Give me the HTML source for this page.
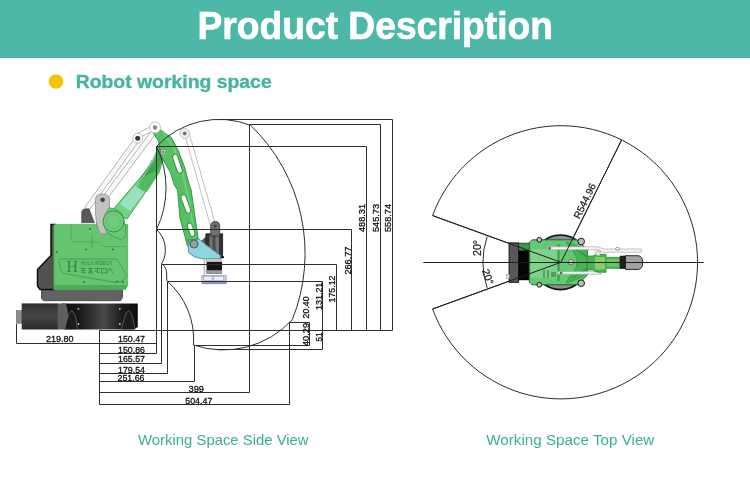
<!DOCTYPE html>
<html><head><meta charset="utf-8">
<style>
html,body{margin:0;padding:0;background:#fff;}
body{width:750px;height:479px;overflow:hidden;position:relative;}
svg{position:absolute;left:0;top:0;will-change:transform;}
</style></head>
<body>
<svg width="750" height="479" viewBox="0 0 750 479" font-family="Liberation Sans, sans-serif">
<!-- header -->
<rect x="0" y="0" width="750" height="58" fill="#4db7a8"/>
<text x="197.5" y="39" font-size="39" font-weight="bold" fill="#fff" stroke="#fff" stroke-width="0.7" textLength="355.5" lengthAdjust="spacingAndGlyphs">Product Description</text>
<!-- subtitle -->
<circle cx="56" cy="81.5" r="7.3" fill="#f5c300"/>
<text x="75.7" y="88.3" font-size="18" font-weight="bold" fill="#48b3a0" stroke="#48b3a0" stroke-width="0.35" textLength="196" lengthAdjust="spacingAndGlyphs">Robot working space</text>

<!-- ============ SIDE VIEW ============ -->
<!-- robot side -->
<defs>
  <linearGradient id="baseg" x1="0" y1="0" x2="0" y2="1">
    <stop offset="0" stop-color="#1c1c1c"/><stop offset="0.45" stop-color="#3a3a3a"/><stop offset="1" stop-color="#141414"/>
  </linearGradient>
  <linearGradient id="baseh" x1="0" y1="0" x2="1" y2="0">
    <stop offset="0" stop-color="#0c0c0c"/><stop offset="0.25" stop-color="#1a1a1a"/><stop offset="0.55" stop-color="#4a4a4a"/><stop offset="0.8" stop-color="#1a1a1a"/><stop offset="1" stop-color="#0c0c0c"/>
  </linearGradient>
  <linearGradient id="motg" x1="0" y1="0" x2="0" y2="1">
    <stop offset="0" stop-color="#2e2e2e"/><stop offset="0.5" stop-color="#474747"/><stop offset="1" stop-color="#2a2a2a"/>
  </linearGradient>
</defs>
<g id="robot-side">
  <!-- base -->
  <rect x="16.3" y="310.6" width="5.6" height="12.6" fill="#8c8c8c" stroke="#5a5a5a" stroke-width="0.5"/>
  <rect x="21.7" y="303.4" width="36.5" height="26.1" fill="url(#motg)"/>
  <path d="M61.3,303.4H137.8V327L134,329.5H64L61.3,327Z" fill="url(#baseh)"/>
  <path d="M57.7,303.4H66Q70,316 66,329.5H57.7Z" fill="#5e5e5e"/>
  <path d="M64.5,329.5 L66,323 L69,313 L72,310.5 L75.5,316 L77.5,329.5Z" fill="#1c1c1c" stroke="#8f8f8f" stroke-width="0.5"/>
  <path d="M121.5,329.5 L123,323 L126,313 L129,310.5 L132.5,316 L135,329.5Z" fill="#1c1c1c" stroke="#8f8f8f" stroke-width="0.5"/>
  <circle cx="78.4" cy="308.8" r="0.9" fill="#ccc"/><circle cx="78.4" cy="324" r="0.9" fill="#ccc"/>
  <circle cx="119.8" cy="308.8" r="0.9" fill="#ccc"/><circle cx="119.8" cy="324" r="0.9" fill="#ccc"/>
  <!-- gray plate -->
  <path d="M41.5,289.5H122.5V297.5L120.5,300.7H43.5L41.5,298.5Z" fill="#626262" stroke="#3c3c3c" stroke-width="0.8"/>
  <!-- dark side panel -->
  <path d="M51,224.4H55V289.5H40L37.5,286V269.5L51,255.4Z" fill="#525252" stroke="#0e0e0e" stroke-width="1.5"/>
  <!-- green body -->
  <path d="M53.8,224.4H127.7V284Q127.7,289.7 122,289.7H53.8Z" fill="#65c470" stroke="#3a9a46" stroke-width="0.6"/>
  <rect x="54" y="285" width="72" height="4.5" fill="#4cae58"/>
  <path d="M71,224.8V238Q71,242 75,242H99L104,246.5H126" fill="none" stroke="#3f9f4b" stroke-width="0.6"/>
  <path d="M92,235V248" fill="none" stroke="#3f9f4b" stroke-width="0.6"/>
  <path d="M58.8,261.5Q58.8,259 62,259H116.8L126,274Q126.5,279 121,281.5L116,282.5L64,273.5Q61.5,273 61,270Z" fill="none" stroke="#3a9a47" stroke-width="0.8"/>
  <text x="66.3" y="272.4" font-family="Liberation Serif, serif" font-size="16.5" fill="#2f8c3d" textLength="11.8" lengthAdjust="spacingAndGlyphs">H</text>
  <text x="80.7" y="265.4" font-size="4.8" fill="#2f8c3d" textLength="32" lengthAdjust="spacingAndGlyphs">HULK ROBOT</text>
  <g fill="none" stroke="#2f7d39" stroke-width="0.7">
    <path d="M81,268.5h4.5M83,268v5M81,270.5h4.5M81.5,272.5h4"/>
    <path d="M88,268.5h5M90.5,268v5M88.5,271h4M88,273h5"/>
    <path d="M95,268.5h5M97.5,268v5M95,271l5,2"/>
    <path d="M101.5,268.5h5v4.5h-5z"/>
    <path d="M110,268l-3,5M110,268l3,5"/>
  </g>
  <g fill="#2d6b35"><circle cx="57" cy="252" r="0.9"/><circle cx="86" cy="249.5" r="0.9"/><circle cx="113" cy="249.5" r="0.9"/><circle cx="84" cy="282" r="0.9"/><circle cx="117" cy="281.5" r="0.9"/><circle cx="90" cy="229" r="0.9"/><circle cx="117" cy="236" r="0.9"/><circle cx="123" cy="282" r="0.9"/></g>

  <!-- links (white bars) -->
  <g fill="none" stroke-linecap="round">
    <path d="M87.5,208 L136.5,140 M104,199 L153,133" stroke="#b3b3b3" stroke-width="5.8"/>
    <path d="M87.5,208 L136.5,140 M104,199 L153,133" stroke="#fff" stroke-width="4"/>
    <path d="M87.5,208 L136.5,140 M104,199 L153,133" stroke="#dedede" stroke-width="0.6"/>
    <path d="M137.7,136 L155,127" stroke="#b3b3b3" stroke-width="5.5"/>
    <path d="M137.7,136 L155,127" stroke="#fff" stroke-width="3.8"/>
  </g>
  <g fill="#fff" stroke="#b0b0b0" stroke-width="0.8">
    <path d="M184.3,133 L210.5,226 L215.5,224.5 L189,132.5Z"/>
  </g>
  <!-- dark gray piece -->
  <path d="M81.6,222.7V212.5Q82,208.8 86,208.8H89L94.5,222.7Z" fill="#595959" stroke="#333" stroke-width="0.5"/>
  <!-- upper arm green -->
  <path d="M110,213 L155.2,160.1 L158,147 L166,150 L159,172.7 L127,219Z" fill="#74d281" stroke="#2a9a3b" stroke-width="0.8"/>
  <path d="M136,190 L155.2,160.1 L158,147 L166,150 L159,172.7 L147,192Z" fill="#4cba5a" opacity="0.85"/>
  <path d="M120,204 L135,186 L145,192 L130,211Z" fill="#a6e4d2" opacity="0.8"/>
  <path d="M145,176 L157,149 L165,151 L158,170Z" fill="#2f9a40" opacity="0.6"/>
  <path d="M139,183 L150,170 M141,178 L152,160" stroke="#2a8a38" stroke-width="0.6" fill="none"/>
  <!-- gray bracket -->
  <path d="M96,224 Q103,232 121,240 L126,236 Q127,226 122,214 Q114,206 104,208Z" fill="#69c876" stroke="#2f9a40" stroke-width="0.7"/>
  <path d="M95.5,199.5 Q95.5,194 102.6,194 Q109.5,194 109.5,200 V207 Q104,213 104,221 Q104,228 107,233.8 H100.5 Q96,226 95.5,214Z" fill="#c2c2c2" stroke="#8a8a8a" stroke-width="0.7"/>
  <circle cx="102.6" cy="199.8" r="2.8" fill="#444" stroke="#e0e0e0" stroke-width="0.8"/>
  <circle cx="113.5" cy="221.5" r="10.5" fill="#6fcc7c" stroke="#2a8f38" stroke-width="0.9"/>
  <circle cx="113.5" cy="221.5" r="7" fill="none" stroke="#4aae5a" stroke-width="0.5"/>
  <!-- forearm green -->
  <path d="M152,131 Q155,128 160.5,130 L171.2,137.5 L178,150 L184.3,166.3 L189.3,185 L191.1,190 L198.4,240 Q198,247.5 192.5,248.5 Q187,248 186.5,242.2 L180,218 L177.5,190 L174.3,185 L170.5,172.6 L161.2,156.3 L158.6,141.3 Z" fill="#58c064" stroke="#2a8f38" stroke-width="0.9"/>
  <path d="M163,131 L175,150 L183,175 L190,205 L194,238" fill="none" stroke="#7fd58a" stroke-width="2" opacity="0.6"/>
  <g stroke-linecap="round" fill="none">
    <path d="M175.2,157 L179.7,170.6" stroke="#2a8f38" stroke-width="6"/>
    <path d="M175.2,157 L179.7,170.6" stroke="#fff" stroke-width="4.2"/>
    <path d="M183.5,197.5 L188.3,210.5" stroke="#2a8f38" stroke-width="6"/>
    <path d="M183.5,197.5 L188.3,210.5" stroke="#fff" stroke-width="4.2"/>
    <path d="M189.6,225.5 L192.6,234" stroke="#2a8f38" stroke-width="5.6"/>
    <path d="M189.6,225.5 L192.6,234" stroke="#fff" stroke-width="3.8"/>
  </g>
  <!-- joints -->
  <circle cx="155" cy="127.5" r="5.5" fill="#fff" stroke="#bdbdbd" stroke-width="1"/>
  <circle cx="155" cy="127.5" r="2.2" fill="#888"/>
  <circle cx="137.7" cy="138.2" r="5" fill="#fff" stroke="#bdbdbd" stroke-width="1"/>
  <circle cx="137.7" cy="138.2" r="2.5" fill="#3a3a3a"/>
  <circle cx="184.7" cy="133.4" r="4.8" fill="#f4f4f4" stroke="#bdbdbd" stroke-width="1"/>
  <circle cx="184.7" cy="133.4" r="2" fill="#777"/>
  <circle cx="163.2" cy="152" r="2.4" fill="#e8e8e8" stroke="#666" stroke-width="0.6"/><circle cx="163.2" cy="152" r="0.9" fill="#333"/>
  <!-- end effector -->
  <path d="M201,241 L206,236.5 V252 L203,249Z" fill="#5a5a5a"/>
      <path d="M205.9,233.8H222.6V257.3H205.9Z" fill="#333" stroke="#151515" stroke-width="0.8"/>
  <rect x="209.5" y="234.5" width="9.5" height="21" fill="#747474"/>
  <rect x="212.5" y="236" width="3" height="19" fill="#4a4a4a"/>
  <path d="M210.7,226 Q210.7,221.5 215.2,221.5 Q219.7,221.5 219.7,226 V236 H210.7Z" fill="#707070" stroke="#2a2a2a" stroke-width="0.7"/>
  <circle cx="215.2" cy="226" r="1.6" fill="#444"/>
  <rect x="219" y="256.3" width="5" height="2" fill="#111"/>
  <path d="M188,240 L199,239 L207,245.5 L220.5,255.5 L220.5,258.8 H201.5 Q193,257.5 188.5,252.5Z" fill="#8dd5df" stroke="#3d6f7a" stroke-width="0.7"/>
  <path d="M188,240 L197,239.5 L191,247Z" fill="#62c46f" stroke="#2f9a40" stroke-width="0.6"/>
  <circle cx="194.1" cy="244" r="4" fill="#9c9ca6" stroke="#3e5568" stroke-width="0.9"/>

  <rect x="206.6" y="258.9" width="15.4" height="14.8" fill="#151515"/>
  <rect x="206.6" y="258.9" width="15.4" height="3" fill="#c9c9c9"/>
  <rect x="206.6" y="270.2" width="15.4" height="3.5" fill="#9a9a9a"/>
  <rect x="203.6" y="259" width="1.6" height="17" fill="#bfbfbf"/>
  <rect x="201.9" y="275.3" width="24.3" height="8.6" fill="#c6c9de" stroke="#7f84a6" stroke-width="0.5"/>
  <rect x="204" y="276.5" width="8" height="4" fill="#eef0fb" stroke="#8d92b0" stroke-width="0.4"/>
  <rect x="213.5" y="276.5" width="10" height="4" fill="#eef0fb" stroke="#8d92b0" stroke-width="0.4"/>
  <rect x="201.9" y="281.5" width="24.3" height="2.4" fill="#8f94b4"/>
</g>

<g id="side-lines" stroke="#2e2e2e" stroke-width="1" fill="none">
  <path d="M218,119.5H392.5V330.5"/>
  <path d="M249.5,124.5H380.5V330.5"/>
  <path d="M249.5,124.5V392.5"/>
  <path d="M156.5,146.5H366.5V330.5"/>
  <path d="M156.5,146.5V353.5"/>
  <path d="M156.5,229.5H351.5V330.5"/>
  <path d="M161.5,264.5H336.5V330.5"/>
  <path d="M161.5,264.5V363.5"/>
  <path d="M167.5,281.5H322.5V349.5"/>
  <path d="M167.5,281.5V373.5"/>
  <path d="M99.5,330.5H392.5"/>
  <path d="M289.5,322.5H309.5V345.5"/>
  <path d="M289.5,322.5V404.5"/>
  <path d="M194.5,345.5H309.5"/>
  <path d="M215,349.5H322.5"/>
  <path d="M194.5,345.5V381.5"/>
  <path d="M16.5,324V343.5H156.5"/>
  <path d="M99.5,330V404.5"/>
  <path d="M99.5,353.5H156.5"/>
  <path d="M99.5,363.5H161.5"/>
  <path d="M99.5,373.5H167.5"/>
  <path d="M99.5,381.5H194.5"/>
  <path d="M99.5,392.5H249.5"/>
  <path d="M99.5,404.5H289.5"/>
  <!-- envelope -->
  <path d="M156.5,146.5 A86,86 0 0 1 250.6,125.3 A177.8,177.8 0 0 1 292.3,319.6 A93.1,93.1 0 0 1 193.5,345 A78,78 0 0 0 166.8,280.7 L166.6,273 C166.3,268 164.5,265.5 161.5,264 A27.8,27.8 0 0 0 156.5,229.5 A95,95 0 0 0 156.5,146.5"/>
</g>

<g id="side-text" font-size="9.5" fill="#111" stroke="#111" stroke-width="0.3">
  <text x="45.9" y="342.3" textLength="27.7" lengthAdjust="spacingAndGlyphs">219.80</text>
  <text x="118" y="342.3" textLength="27" lengthAdjust="spacingAndGlyphs">150.47</text>
  <text x="118" y="352.9" textLength="27" lengthAdjust="spacingAndGlyphs">150.86</text>
  <text x="118" y="362.3" textLength="27" lengthAdjust="spacingAndGlyphs">165.57</text>
  <text x="118" y="372.6" textLength="27" lengthAdjust="spacingAndGlyphs">179.54</text>
  <text x="117.5" y="380.5" textLength="27" lengthAdjust="spacingAndGlyphs">251.66</text>
  <text x="188.5" y="392" textLength="15.5" lengthAdjust="spacingAndGlyphs">399</text>
  <text x="185.3" y="403.6" textLength="27" lengthAdjust="spacingAndGlyphs">504.47</text>
  <text transform="translate(365.2,232) rotate(-90)" textLength="28" lengthAdjust="spacingAndGlyphs">488.31</text>
  <text transform="translate(379.2,232) rotate(-90)" textLength="28" lengthAdjust="spacingAndGlyphs">545.73</text>
  <text transform="translate(391.2,232) rotate(-90)" textLength="28" lengthAdjust="spacingAndGlyphs">558.74</text>
  <text transform="translate(350.7,274.6) rotate(-90)" textLength="28" lengthAdjust="spacingAndGlyphs">266.77</text>
  <text transform="translate(335.4,302.5) rotate(-90)" textLength="27" lengthAdjust="spacingAndGlyphs">175.12</text>
  <text transform="translate(321.7,310) rotate(-90)" textLength="27.5" lengthAdjust="spacingAndGlyphs">131.21</text>
  <text transform="translate(309.2,318.4) rotate(-90)" textLength="22" lengthAdjust="spacingAndGlyphs">20.40</text>
  <text transform="translate(309.2,346) rotate(-90)" textLength="23" lengthAdjust="spacingAndGlyphs">40.29</text>
  <text transform="translate(321.7,341.5) rotate(-90)" textLength="9" lengthAdjust="spacingAndGlyphs">51</text>
</g>

<!-- ============ TOP VIEW ============ -->
<g stroke="#2a2a2a" stroke-width="1" fill="none">
  <!-- big arc from 200deg going clockwise (through top, right, bottom) to 160deg -->
  <path d="M432.6,215.6 A136.6,136.6 0 1 1 432.6,309 L561,262.3 Z"/>
  <path d="M423.5,262.5H703.5"/>
  <path d="M561,262.3L621.6,140"/>
  <path d="M487.2,236.5 A81.2,81.2 0 0 0 487.2,288.1"/>
</g>
<g id="robot-top">
  <!-- gray disc -->
  <circle cx="560.5" cy="262.3" r="27.3" fill="#8d8d8d" stroke="#111" stroke-width="1.6"/>
  <!-- back blocks -->
  <rect x="509.1" y="242.9" width="9.5" height="39.4" fill="#585858" stroke="#151515" stroke-width="1"/>
  <rect x="518.6" y="250.4" width="11" height="29.8" fill="#050505"/>
  <path d="M518.6,243.2H538V250.4H518.6Z" fill="#3f9a4c" stroke="#151515" stroke-width="0.7"/>
  <rect x="506.2" y="274.5" width="3.2" height="4.2" fill="#e6e6e6" stroke="#777" stroke-width="0.4"/>
  <!-- green body -->
  <path d="M529.3,242.5 L532,239.8 H577 L587.5,250 V275 L577,284.8 H532 L529.3,282Z" fill="#64c973" stroke="#1f5a2a" stroke-width="0.9"/>
  <path d="M531,249 H558 V278 H531Z" fill="#88d895" opacity="0.65"/>
  <path d="M558.5,244 V281" stroke="#3aa84a" stroke-width="2.4" fill="none"/>
  <path d="M566,242 Q580,246 587.5,252 V273 Q580,279 566,283 L570,276 Q577,270 577,262.3 Q577,255 570,248Z" fill="#46b556" stroke="#2a8a38" stroke-width="0.6"/>
  <path d="M572,247 Q584,254 590,258 M572,278 Q584,271 590,267" stroke="#2a8a38" stroke-width="0.8" fill="none"/>
  <path d="M576,250 Q586,257 592,259.5 M576,275 Q586,268 592,265.5" stroke="#2a8a38" stroke-width="0.6" fill="none"/>
  <circle cx="570.9" cy="262" r="2.8" fill="#c4c4c4" stroke="#4a4a4a" stroke-width="0.6"/>
  <g fill="#2d7a38" opacity="0.55"><rect x="543" y="270" width="2" height="8"/><rect x="547" y="270" width="2" height="8"/><rect x="551" y="272" width="5" height="5"/></g>
  <!-- links -->
  <g fill="#f4f4f4" stroke="#a0a0a0" stroke-width="0.6">
    <path d="M547.5,246.8 H598 L604,249 H641.6 V252.2 H603 L597,249.8 H547.5Z"/>
    <path d="M557.5,271.6 H598 L601.5,274.2 H557.5Z"/>
  </g>
  <ellipse cx="598" cy="251.5" rx="3.2" ry="1.8" fill="none" stroke="#b0b0b0" stroke-width="0.6"/>
  <ellipse cx="617.5" cy="248.8" rx="2" ry="1.3" fill="#fff" stroke="#555" stroke-width="0.6"/>
  <circle cx="549.5" cy="248.3" r="1.5" fill="#666"/>
  <circle cx="561" cy="272.9" r="1.5" fill="#666"/>
  <!-- bolts -->
  <g fill="#bdbdbd" stroke="#1a1a1a" stroke-width="1">
    <circle cx="539.3" cy="239.8" r="2.4"/><circle cx="581.2" cy="241.5" r="3.3"/>
    <circle cx="539.3" cy="284.8" r="2.4"/><circle cx="581.2" cy="283.2" r="3.3"/>
  </g>
  <!-- arm -->
  <path d="M587,256 H592.8 Q595,254.3 600,254.3 H606 V257.4 H620 V268.3 H606 V272.3 H600 Q595,272.3 592.8,270 H587Z" fill="#45b553" stroke="#237a30" stroke-width="0.7"/>
  <rect x="595" y="257" width="10" height="12.5" fill="#9ad76a" opacity="0.75"/>
  <rect x="607" y="259" width="12" height="7.5" fill="#78cf6e" opacity="0.7"/>
  <circle cx="598" cy="253.5" r="2.2" fill="#eee" stroke="#999" stroke-width="0.5"/>
  <rect x="619.8" y="255.7" width="8" height="13.2" fill="#1e1e1e"/>
  <path d="M625.5,255.7 H638 Q642.7,256 642.7,262.5 Q642.7,269.4 638,269.4 H625.5Z" fill="#a2a2a2" stroke="#1a1a1a" stroke-width="0.9"/>
</g>
<g stroke="#1e1e1e" stroke-width="1" fill="none">
  <path d="M423.5,262.5H703.5"/>
  <path d="M432.6,215.6L561,262.3L432.6,309"/>
  <path d="M561,262.3L621.6,140"/>
</g>
<g font-size="10" fill="#151515" stroke="#151515" stroke-width="0.2">
  <text transform="translate(481,256) rotate(-90)" textLength="16" lengthAdjust="spacingAndGlyphs">20°</text>
  <text transform="translate(482,270.5) rotate(70)" textLength="16" lengthAdjust="spacingAndGlyphs">20°</text>
  <text transform="translate(579.4,219.5) rotate(-63.6)" textLength="38" lengthAdjust="spacingAndGlyphs">R544.96</text>
</g>

<!-- captions -->
<text x="138.1" y="444.8" font-size="14.6" fill="#3aae9b" textLength="170.5" lengthAdjust="spacingAndGlyphs">Working Space Side View</text>
<text x="486.3" y="444.8" font-size="14.6" fill="#3aae9b" textLength="168" lengthAdjust="spacingAndGlyphs">Working Space Top View</text>
</svg>
</body></html>
